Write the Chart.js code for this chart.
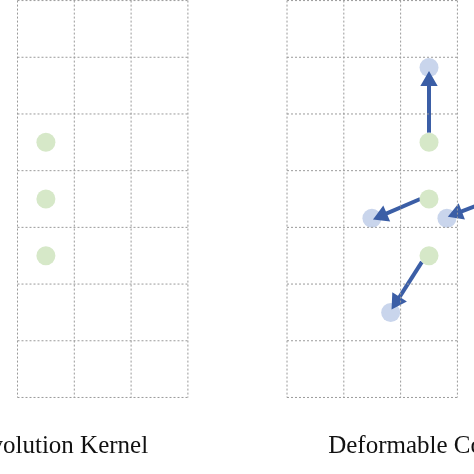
<!DOCTYPE html>
<html>
<head>
<meta charset="utf-8">
<script src="https://cdn.jsdelivr.net/npm/chart.js"></script>
<style>body{margin:0;background:#fff}</style>
</head>
<body>
<canvas id="c" width="474" height="474"></canvas>
<script>
// grid units: one cell = 1
const leftCols = [0, 1, 2, 3];
const rightCols = [4.745, 5.745, 6.745, 7.745];
const rows = [0, 1, 2, 3, 4, 5, 6, 7];

const leftGreen = [{x: 0.5, y: 2.5}, {x: 0.5, y: 3.5}, {x: 0.5, y: 4.5}];
const rightGreen = [{x: 7.245, y: 2.5}, {x: 7.245, y: 3.5}, {x: 7.245, y: 4.5}];
const rightBlue = [{x: 7.245, y: 1.18}, {x: 6.24, y: 3.84}, {x: 7.56, y: 3.84}, {x: 6.57, y: 5.5}];
const arrows = [
  [{x: 7.245, y: 2.33}, {x: 7.245, y: 1.42}],
  [{x: 7.09, y: 3.5}, {x: 6.42, y: 3.79}],
  [{x: 8.1, y: 3.61}, {x: 7.74, y: 3.75}],
  [{x: 7.12, y: 4.61}, {x: 6.68, y: 5.3}]
];
const labels = [
  {text: 'Convolution Kernel', x: 2.3, align: 'right'},
  {text: 'Deformable Convolution Kernel', x: 5.47, align: 'left'}
];

const gridStyle = {borderColor: '#9a9a9a', borderWidth: 1, borderDash: [2, 2], pointRadius: 0, showLine: true};
let datasets = [];
function gridFor(cols) {
  cols.forEach(c => datasets.push({...gridStyle, data: [{x: c, y: rows[0]}, {x: c, y: rows[rows.length - 1]}]}));
  rows.forEach(r => datasets.push({...gridStyle, data: [{x: cols[0], y: r}, {x: cols[cols.length - 1], y: r}]}));
}
gridFor(leftCols);
gridFor(rightCols);

arrows.forEach(a => {
  const dx = a[1].x - a[0].x, dy = a[1].y - a[0].y;
  const rot = Math.atan2(dx, -dy) * 180 / Math.PI;
  datasets.push({data: a, showLine: true, borderColor: '#3b5ea6', borderWidth: 4,
    pointRadius: [0, 6], pointStyle: 'triangle', rotation: rot,
    pointBackgroundColor: '#3b5ea6', pointBorderColor: '#3b5ea6'});
});
datasets.push({data: leftGreen.concat(rightGreen), pointRadius: 9.5, backgroundColor: '#d6e8c8', borderWidth: 0, order: -1});
datasets.push({data: rightBlue, pointRadius: 9.5, backgroundColor: '#c9d5ec', borderWidth: 0, order: 1});

const textPlugin = {
  id: 'texts',
  afterDraw(chart) {
    const ctx = chart.ctx, xs = chart.scales.x;
    ctx.save();
    ctx.fillStyle = '#111';
    ctx.font = '25px "Liberation Serif", "DejaVu Serif", serif';
    ctx.textBaseline = 'middle';
    labels.forEach(l => {
      ctx.textAlign = l.align;
      ctx.fillText(l.text, xs.getPixelForValue(l.x), chart.scales.y.getPixelForValue(7.87));
    });
    ctx.restore();
  }
};

new Chart(document.getElementById('c'), {
  type: 'scatter',
  data: {datasets},
  plugins: [textPlugin],
  options: {
    responsive: false, animation: false,
    layout: {padding: 0, autoPadding: false},
    clip: false,
    plugins: {legend: {display: false}, tooltip: {enabled: false}},
    scales: {
      x: {display: false, min: -0.308, max: 8.037},
      y: {display: false, reverse: true, min: -0.01, max: 8.35}
    }
  }
});
</script>
</body>
</html>
